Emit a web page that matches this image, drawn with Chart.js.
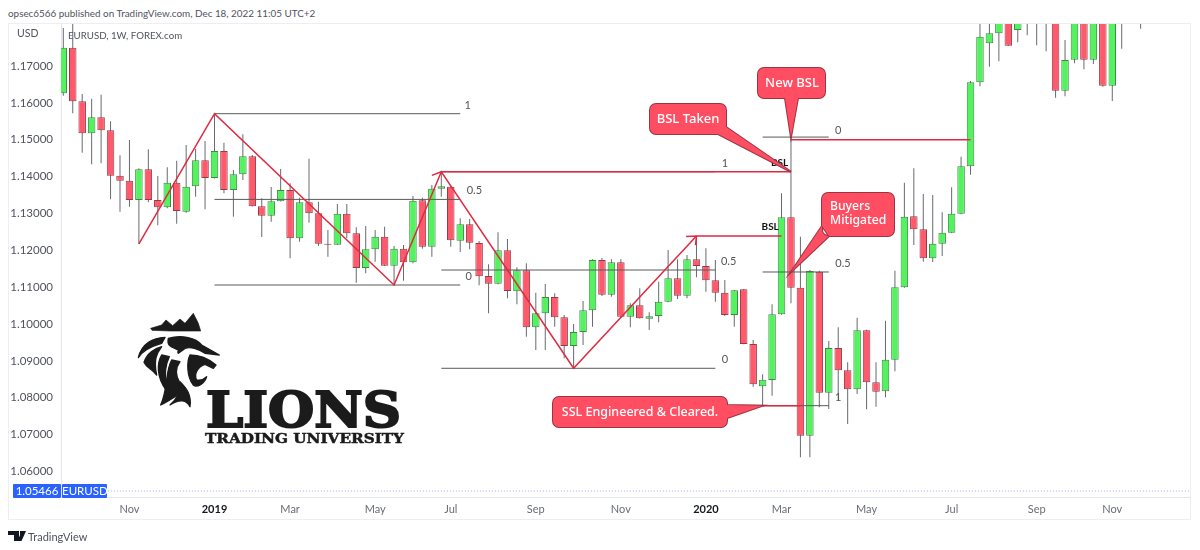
<!DOCTYPE html>
<html>
<head>
<meta charset="utf-8">
<title>EURUSD 1W</title>
<script src="https://cdn.jsdelivr.net/npm/chart.js@4/dist/chart.umd.min.js"></script>
<style>
  html, body { margin: 0; padding: 0; background: #fff; width: 1200px; height: 550px; overflow: hidden; font-family: Lato, sans-serif; color: #50535e; }
  #wrap { position: absolute; left: 8px; top: 23px; width: 1183px; height: 497px; }
  #frame { position: absolute; left: 8px; top: 23px; width: 1183px; height: 497px; box-sizing: border-box; border: 1px solid #eceef2; pointer-events: none; }
  .txt { position: absolute; white-space: nowrap; font-size: 11px; line-height: 14px; }
  .tag { position: absolute; top: 484px; height: 14px; line-height: 14px; background: #2962ff; color: #fff; font-size: 11.5px; text-align: center; border-radius: 1px; }
  svg { position: absolute; left: 0; top: 0; pointer-events: none; }
</style>
</head>
<body>
<div class="txt" style="left:8px;top:6px;font-size:9.9px;">opsec6566 published on TradingView.com, Dec 18, 2022 11:05 UTC+2</div>
<div id="wrap"><canvas id="myChart" width="1183" height="497"></canvas></div>
<div id="frame"></div>
<div class="txt" style="left:17px;top:26px;font-size:10.5px;">USD</div>
<div class="txt" style="left:68px;top:28px;font-size:9.7px;">EURUSD, 1W, FOREX.com</div>
<div class="tag" style="left:13px;width:48px;">1.05466</div>
<div class="tag" style="left:62px;width:45px;">EURUSD</div>

<svg width="1200" height="550">
  <!-- 로고 -->
  <g transform="translate(130,305) scale(0.3333)" fill="#1b1b1b" stroke="#1b1b1b" stroke-width="4" stroke-linejoin="round">
    <path d="M62 70 L95 60 L108 45 L128 62 L150 42 L165 55 L190 25 L205 55 L212 78 L120 78 L66 76Z" stroke-width="2"/>
    <path d="M105 97 C70 98 35 115 25 158 C35 140 60 125 95 115Z"/>
    <path d="M42 172 C50 145 75 130 95 125 C80 145 70 165 80 210 C65 190 50 190 42 172Z"/>
    <path d="M95 150 C80 175 80 215 108 255 C108 225 100 190 118 155Z"/>
    <path d="M125 165 C105 200 115 250 92 300 C130 280 155 270 150 235 C135 210 135 190 150 170Z"/>
    <path d="M115 100 C150 90 195 95 215 120 L268 150 L225 145 C205 130 180 125 165 130 C150 140 140 155 145 135 C125 125 110 125 115 100Z"/>
    <path d="M180 150 C215 150 240 165 258 180 L250 190 L225 178 C205 185 190 205 200 225 C215 228 225 220 230 215 C225 235 200 250 190 240 C170 215 170 170 180 150Z"/>
    <path d="M150 230 C170 250 185 270 180 305 C170 285 150 280 120 300 C145 280 150 255 150 230Z"/>
  </g>
  <text x="206" y="426.5" font-family="DejaVu Serif" font-weight="bold" font-size="48" textLength="195" lengthAdjust="spacingAndGlyphs" fill="#1b1b1b" stroke="#1b1b1b" stroke-width="2">LIONS</text>
  <text x="205" y="443" font-family="DejaVu Serif" font-weight="bold" font-size="13.5" textLength="199" lengthAdjust="spacingAndGlyphs" fill="#1b1b1b" stroke="#1b1b1b" stroke-width="0.5">TRADING UNIVERSITY</text>
  <!-- TV 마크 -->
  <path d="M8 531 H19 V541 H14 V535 H8Z M20 531 H26 L21.5 541 H17.5 L20 535Z" fill="#131722"/>
</svg>
<div class="txt" style="left:28px;top:529px;font-size:11px;line-height:15px;">TradingView</div>

<script>
// 캔들 데이터 (주봉, 그림에서 읽은 값)
const opens = [1.16259,1.17497,1.16042,1.15174,1.15608,1.15255,1.14023,1.13887,1.13364,1.14197,1.13364,1.13166,1.13833,1.13046,1.13735,1.14441,1.13961,1.14693,1.13635,1.14061,
  1.14550,1.13193,1.12938,1.13328,1.13635,1.12324,1.13301,1.13003,1.12178,1.12151,1.12992,1.12460,1.11518,1.12026,1.12368,1.11581,1.12042,1.11673,1.13355,1.12096,
  1.13670,1.13725,1.12260,1.12704,1.12197,1.11301,1.11092,1.11999,1.10886,1.11456,1.09909,1.10289,1.10731,1.10180,1.09402,1.09782,1.10370,1.11735,1.10794,1.11673,
  1.10197,1.10506,1.10142,1.10216,1.10604,1.11239,1.10767,1.11754,1.11573,1.11184,1.10848,1.10243,1.10940,1.09456,1.08308,1.08479,1.10262,1.12894,1.10984,1.06967,
  1.11418,1.08134,1.09347,1.08742,1.08227,1.09828,1.08417,1.08172,1.09030,1.10995,1.12921,1.12568,1.11782,1.12178,1.12476,1.12992,1.14278,1.16558,1.17616,1.17887,
  1.18800,1.17977,1.18350,1.18700,1.18500,1.19000,1.16330,1.17171,1.18500,1.17171,1.18600,1.16465,1.18400,1.18500,1.18450];
const highs = [1.18031,1.18350,1.16240,1.16113,1.16221,1.15499,1.14577,1.14992,1.14224,1.14739,1.14015,1.14251,1.14430,1.14856,1.14748,1.14965,1.15706,1.14919,1.14178,1.15147,
  1.14585,1.13410,1.13716,1.14205,1.13817,1.13426,1.14484,1.13318,1.12550,1.13255,1.13255,1.12623,1.12658,1.12550,1.12639,1.12115,1.12142,1.13472,1.13426,1.13771,
  1.14130,1.13740,1.12867,1.12848,1.12251,1.11619,1.12487,1.12305,1.11537,1.11646,1.10848,1.11084,1.10832,1.10243,1.09999,1.10623,1.11754,1.11790,1.11754,1.11754,
  1.10560,1.10967,1.10316,1.11147,1.12007,1.11754,1.11871,1.12387,1.12053,1.11735,1.11193,1.10920,1.10950,1.09564,1.08634,1.10533,1.13545,1.15038,1.12368,1.11464,
  1.11445,1.09537,1.09909,1.08959,1.10170,1.09840,1.08959,1.10088,1.11445,1.13833,1.14224,1.13526,1.13499,1.13030,1.13708,1.14539,1.16593,1.18300,1.18450,1.19000,
  1.19000,1.18900,1.19000,1.18900,1.18800,1.19200,1.17706,1.18800,1.18800,1.18800,1.18900,1.18800,1.18700,1.18800,1.18700];
const lows = [1.16194,1.15716,1.14647,1.14332,1.14360,1.13383,1.13046,1.13182,1.12170,1.13301,1.12677,1.13140,1.12720,1.13020,1.13453,1.13111,1.13950,1.13545,1.12910,1.13906,
  1.13185,1.12360,1.12775,1.13320,1.11782,1.12232,1.12748,1.12115,1.11825,1.12140,1.12324,1.11120,1.11375,1.11689,1.11570,1.11057,1.11174,1.11650,1.12042,1.11825,
  1.13453,1.12096,1.11953,1.12026,1.11049,1.10289,1.11080,1.10696,1.10533,1.09654,1.09293,1.09293,1.09925,1.09068,1.08797,1.09429,1.09925,1.10758,1.10739,1.10162,
  1.09909,1.10145,1.09836,1.10045,1.10590,1.10677,1.10696,1.11266,1.10875,1.10604,1.10216,1.09925,1.09450,1.08297,1.07782,1.08053,1.10250,1.10560,1.06381,1.06381,
  1.07738,1.07692,1.07936,1.07285,1.08099,1.07684,1.07754,1.08009,1.08715,1.10985,1.12142,1.11689,1.11681,1.11844,1.12465,1.12980,1.14050,1.16449,1.16981,1.17128,
  1.17540,1.17643,1.17833,1.17562,1.17399,1.16140,1.16178,1.17073,1.16910,1.17054,1.16438,1.16050,1.17469,1.18159,1.18012];
const closes = [1.17497,1.16042,1.15174,1.15608,1.15255,1.14023,1.13887,1.13364,1.14197,1.13364,1.13166,1.13833,1.13065,1.13725,1.14441,1.13961,1.14693,1.13635,1.14061,1.14550,
  1.13193,1.12938,1.13328,1.13635,1.12324,1.13301,1.13003,1.12178,1.12151,1.12992,1.12460,1.11518,1.12026,1.12368,1.11581,1.12042,1.11673,1.13345,1.12096,1.13670,
  1.13735,1.12270,1.12704,1.12205,1.11293,1.11092,1.11999,1.10894,1.11456,1.09909,1.10289,1.10731,1.10180,1.09402,1.09782,1.10370,1.11735,1.10794,1.11673,1.10197,
  1.10506,1.10153,1.10208,1.10604,1.11239,1.10767,1.11754,1.11573,1.11184,1.10848,1.10243,1.10913,1.09456,1.08362,1.08487,1.10262,1.12894,1.10984,1.06967,1.11437,
  1.08134,1.09347,1.08742,1.08227,1.09828,1.08417,1.08162,1.09030,1.10995,1.12910,1.12568,1.11782,1.12178,1.12476,1.12992,1.14278,1.16558,1.17795,1.17887,1.18800,
  1.17551,1.18600,1.18700,1.18350,1.18800,1.16330,1.17163,1.18500,1.17171,1.18600,1.16465,1.18500,1.18500,1.18400,1.18600];

// 축 눈금
const yTicks = [1.06,1.07,1.08,1.09,1.10,1.11,1.12,1.13,1.14,1.15,1.16,1.17];
const xTickIdx = [7,16,24,33,41,50,59,68,76,85,94,103,111];
const xTickLabels = ['Nov','2019','Mar','May','Jul','Sep','Nov','2020','Mar','May','Jul','Sep','Nov'];
const lastPrice = 1.05466;

// 작도 (지그재그, 피보 레벨)
const zigzagIdx = [8,16,35,40,54,67];
const zigzagPrice = [1.12170,1.15706,1.11057,1.14130,1.08797,1.12387];
const greyLevels = [
  [16,42,1.15706],[16,42,1.13380],[16,42,1.11057],
  [40,69,1.14130],[40,69,1.11464],[40,69,1.08797],
  [74,81,1.15071],[74,81,1.11410],[74,81,1.07782]
];
const redLevels = [
  [40,77,1.14130],[67,76,1.12387],[77,96,1.15000],[74,78,1.07782]
];
const arrowBarbs = [
  [[39,1.14032],[40,1.14130]],
  [[65.9,1.12370],[67,1.12387],[66.9,1.12140]]
];
const levelLabels = [
  ['1',42.8,1.15942],['0.5',43.5,1.13635],['0',42.9,1.11301],
  ['1',70,1.14368],['0.5',70.4,1.11708],['0',70,1.09049],
  ['0',82,1.15263],['0.5',82.5,1.11654],['1',82,1.08018]
];
const bslLabels = [['BSL',75.8,1.14368],['BSL',74.8,1.12639]];

// 말풍선 (box는 페이지 픽셀, tip은 차트 값)
const callouts = [
  {lines:['New BSL'], box:[758,68,67,30], tail:[[785,98],[798,98]], tip:[77,1.15071], textX:792, textY:[83], align:'center', size:13},
  {lines:['BSL Taken'], box:[650,104,76,30], tail:[[726,127],[718,134]], tip:[77,1.14130], textX:688, textY:[119], align:'center', size:13},
  {lines:['Buyers','Mitigated'], box:[822,193,72,43], tail:[[822,226],[829,236]], tip:[77,1.11410], textX:830, textY:[207,221], align:'left', size:12.2},
  {lines:['SSL Engineered & Cleared.'], box:[553,397,174,30], tail:[[727,405],[727,418]], tip:[74,1.07782], textX:640, textY:[412], align:'center', size:12.5}
];

const OFFSET_X = 8, OFFSET_Y = 23;
const upColor = '#54f25f', downColor = '#ff5a6c';
const upLine = '#3a8c43', downLine = '#963a48';
const redLine = '#df2a3f', greyLine = '#5a5a5a';

const wickData = highs.map((h, i) => ({x: i, y: [lows[i], h]}));
const bodyData = opens.map((o, i) => ({x: i, y: [o, closes[i]]}));

function lineSet(points, color, width, order, dash){
  return {
    type: 'line',
    data: points,
    borderColor: color,
    borderWidth: width,
    borderDash: dash || [],
    pointRadius: 0,
    tension: 0,
    order: order
  };
}

const datasets = [
  {
    data: wickData,
    backgroundColor: '#666a70',
    borderWidth: 0,
    barThickness: 1,
    inflateAmount: 0,
    grouped: false,
    order: 6
  },
  {
    data: bodyData,
    backgroundColor: closes.map((c, i) => c >= opens[i] ? upColor : downColor),
    borderColor: closes.map((c, i) => c >= opens[i] ? upLine : downLine),
    borderWidth: 1,
    borderSkipped: false,
    barThickness: 7.5,
    inflateAmount: 0,
    grouped: false,
    order: 5
  },
  lineSet([{x: -1, y: lastPrice}, {x: 120, y: lastPrice}], '#a9a9e8', 1, 7, [1, 2]),
  lineSet(zigzagIdx.map((x, i) => ({x: x, y: zigzagPrice[i]})), redLine, 1.5, 2)
];
greyLevels.forEach((l) => datasets.push(lineSet([{x: l[0], y: l[2]}, {x: l[1], y: l[2]}], greyLine, 1, 4)));
redLevels.forEach((l) => datasets.push(lineSet([{x: l[0], y: l[2]}, {x: l[1], y: l[2]}], redLine, 1.5, 3)));
arrowBarbs.forEach((b) => datasets.push(lineSet(b.map((p) => ({x: p[0], y: p[1]})), redLine, 1.5, 2)));

// 레벨 글자와 말풍선
const drawingPlugin = {
  id: 'drawings',
  afterDatasetsDraw(chart){
    const c = chart.ctx;
    const sx = chart.scales.x, sy = chart.scales.y;
    c.save();
    c.textBaseline = 'middle';
    c.textAlign = 'center';
    c.font = '11px Lato';
    c.fillStyle = '#555';
    levelLabels.forEach((l) => c.fillText(l[0], sx.getPixelForValue(l[1]), sy.getPixelForValue(l[2])));
    c.font = 'bold 10px Lato';
    c.fillStyle = '#111';
    bslLabels.forEach((l) => c.fillText(l[0], sx.getPixelForValue(l[1]), sy.getPixelForValue(l[2])));

    callouts.forEach((o) => {
      const bx = o.box[0] - OFFSET_X, by = o.box[1] - OFFSET_Y;
      const tipX = sx.getPixelForValue(o.tip[0]), tipY = sy.getPixelForValue(o.tip[1]);
      c.beginPath();
      c.roundRect(bx, by, o.box[2], o.box[3], 6);
      c.moveTo(o.tail[0][0] - OFFSET_X, o.tail[0][1] - OFFSET_Y);
      c.lineTo(tipX, tipY);
      c.lineTo(o.tail[1][0] - OFFSET_X, o.tail[1][1] - OFFSET_Y);
      c.closePath();
      c.lineWidth = 2;
      c.strokeStyle = '#9c3445';
      c.stroke();
      c.fillStyle = '#ff4d61';
      c.fill();
      c.fillStyle = '#fff';
      c.textAlign = o.align;
      c.font = '500 ' + o.size + 'px "Noto Sans"';
      o.lines.forEach((t, i) => c.fillText(t, o.textX - OFFSET_X, o.textY[i] - OFFSET_Y));
    });
    c.restore();
  }
};

// 연도 라벨만 진하게
const isYear = (c) => (xTickLabels[c.index] || '').startsWith('20');

const ctx = document.getElementById('myChart');
new Chart(ctx, {
  type: 'bar',
  data: {datasets: datasets},
  plugins: [drawingPlugin],
  options: {
    responsive: false,
    animation: false,
    layout: {padding: 0},
    plugins: {legend: {display: false}, tooltip: {enabled: false}},
    scales: {
      x: {
        type: 'linear',
        min: -0.243,
        max: 119.33,
        offset: false,
        afterFit: (scale) => { scale.height = 23; scale.paddingLeft = 0; scale.paddingRight = 0; },
        afterBuildTicks: (scale) => { scale.ticks = xTickIdx.map((v) => ({value: v})); },
        grid: {display: false, drawTicks: false},
        border: {display: true, color: '#e4e6ec'},
        ticks: {
          autoSkip: false,
          maxRotation: 0,
          padding: 6,
          color: (c) => isYear(c) ? '#131722' : '#6a6d78',
          font: (c) => ({family: 'Lato', size: 11, weight: isYear(c) ? 'bold' : 'normal'}),
          callback: (v) => xTickLabels[xTickIdx.indexOf(v)]
        }
      },
      y: {
        min: 1.05304,
        max: 1.18167,
        afterFit: (scale) => { scale.width = 53; scale.paddingTop = 0; scale.paddingBottom = 0; },
        afterBuildTicks: (scale) => { scale.ticks = yTicks.map((v) => ({value: v})); },
        grid: {display: false, drawTicks: false},
        border: {display: true, color: '#e4e6ec'},
        ticks: {
          padding: 8,
          color: '#50535e',
          font: {family: 'Lato', size: 11.5},
          callback: (v) => v.toFixed(5)
        }
      }
    }
  }
});
</script>
</body>
</html>
